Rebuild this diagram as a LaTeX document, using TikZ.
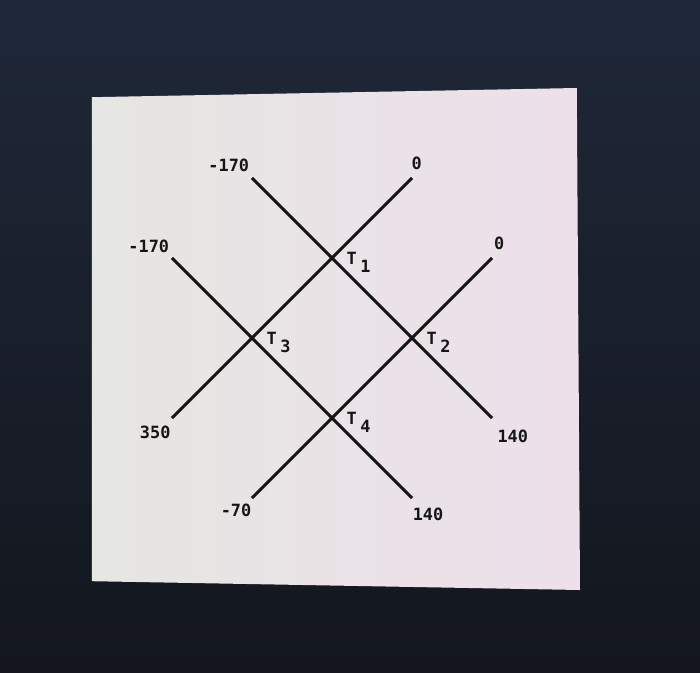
\documentclass[tikz,border=0pt]{standalone}
\usepackage{fontspec}
\setmonofont{DejaVu Sans Mono}
\definecolor{screentop}{HTML}{1F2839}
\definecolor{screenbot}{HTML}{13161D}
\definecolor{paperl}{HTML}{E6E6E2}
\definecolor{paperr}{HTML}{EDE0EB}
\definecolor{ink}{HTML}{151515}
\begin{document}
\begin{tikzpicture}[scale=2,
  lbl/.style={font=\ttfamily\bfseries\fontsize{12}{14}\selectfont, text=ink, inner sep=0pt},
  wire/.style={line width=2.2pt, draw=ink}]

\useasboundingbox (-4.15,-4.175) rectangle (4.6,4.225);
\shade [top color=screentop, bottom color=screenbot] (-4.15,-4.175) rectangle (4.6,4.225);
\shade [left color=paperl, right color=paperr] (-3,3.01) -- (3.06,3.125) -- (3.1,-3.15) -- (-3,-3.04) -- cycle;

% crossing points
\coordinate (T1) at (0,1);
\coordinate (T2) at (1,0);
\coordinate (T3) at (-1,0);
\coordinate (T4) at (0,-1);

% line ends
\coordinate (a1) at (-1,2);  \coordinate (a2) at (2,-1);
\coordinate (b1) at (-2,1);  \coordinate (b2) at (1,-2);
\coordinate (c1) at (-2,-1); \coordinate (c2) at (1,2);
\coordinate (d1) at (-1,-2); \coordinate (d2) at (2,1);

\draw [wire] (a1) -- (T1) -- (T2) -- (a2);
\draw [wire] (b1) -- (T3) -- (T4) -- (b2);
\draw [wire] (c1) -- (T3) -- (T1) -- (c2);
\draw [wire] (d1) -- (T4) -- (T2) -- (d2);

\node [lbl] (na1) at (-1.29,2.16) {-170};
\node [lbl] (na2) at (2.26,-1.23) {140};
\node [lbl] (nb1) at (-2.29,1.15) {-170};
\node [lbl] (nb2) at (1.2,-2.2) {140};
\node [lbl] (nc1) at (-2.21,-1.18) {350};
\node [lbl] (nc2) at (1.06,2.18) {0};
\node [lbl] (nd1) at (-1.2,-2.16) {-70};
\node [lbl] (nd2) at (2.09,1.18) {0};

\foreach \i in {1,...,4}
  \node [lbl, anchor=base west] (t\i) at ([shift={(0.18,-0.08)}]T\i) {T\hspace{2.5pt}\raisebox{-6pt}{\i}};

\end{tikzpicture}
\end{document}
